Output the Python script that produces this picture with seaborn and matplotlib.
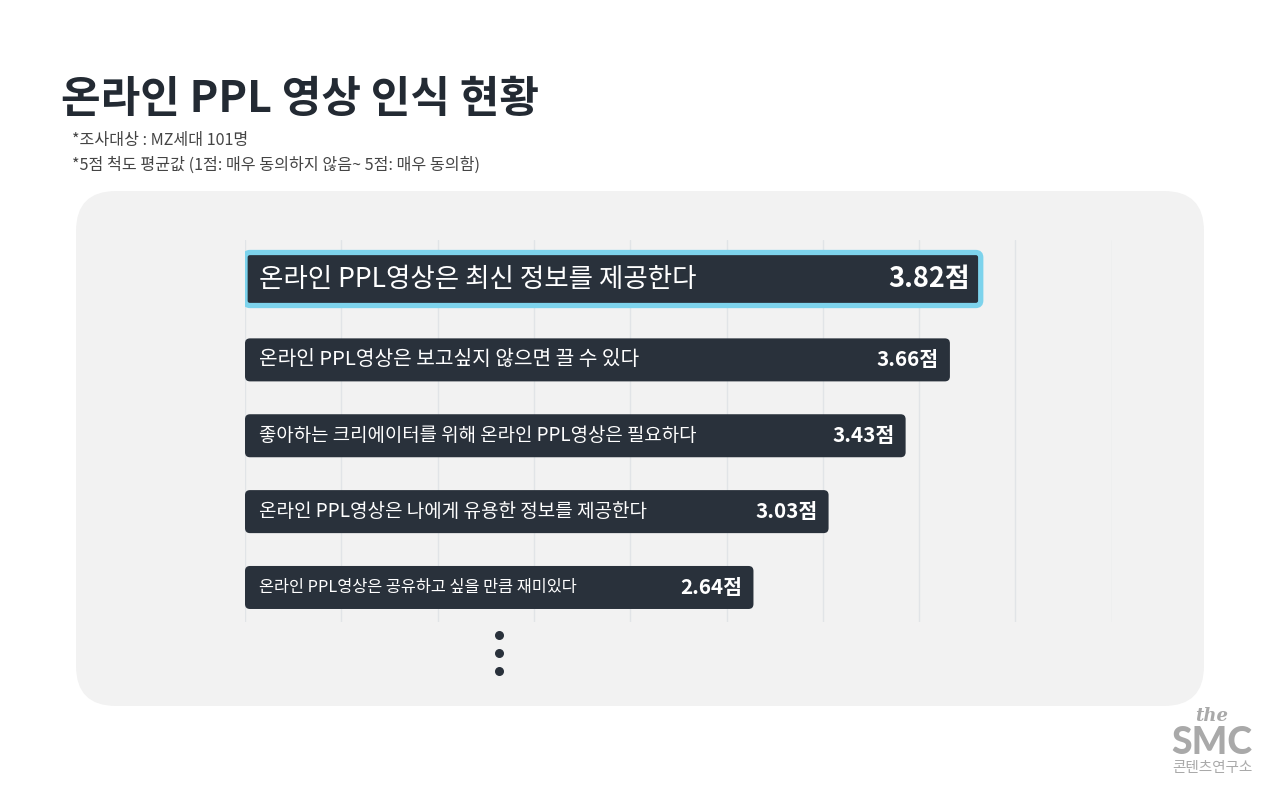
import numpy as np
import pandas as pd
import matplotlib.pyplot as plt
import matplotlib.transforms as mtransforms
from matplotlib.patches import FancyBboxPatch
import seaborn as sns

# 데이터
items = ['온라인 PPL영상은 최신 정보를 제공한다',
         '온라인 PPL영상은 보고싶지 않으면 끌 수 있다',
         '좋아하는 크리에이터를 위해 온라인 PPL영상은 필요하다',
         '온라인 PPL영상은 나에게 유용한 정보를 제공한다',
         '온라인 PPL영상은 공유하고 싶을 만큼 재미있다']
scores = [3.82, 3.66, 3.43, 3.03, 2.64]
title = '온라인 PPL 영상 인식 현황'
notes = ['*조사대상 : MZ세대 101명',
         '*5점 척도 평균값 (1점: 매우 동의하지 않음~ 5점: 매우 동의함)']

# 스타일
label_sizes = [19.1, 14.6, 13.6, 13.7, 11.75]
value_sizes = [19.5, 14.8, 14.8, 14.8, 14.8]
bar_c = '#29313b'
hl_c = '#7dd3ec'
ink = '#232a33'

df = pd.DataFrame({'item': items, 'score': scores})

sns.set_theme(style='white')
plt.rcParams['font.family'] = ['Noto Sans CJK KR', 'DejaVu Sans']

W, H = 1280, 793
fig = plt.figure(figsize=(W / 100, H / 100), dpi=100)
fig.patch.set_facecolor('white')

# 배경 (픽셀 좌표)
bg = fig.add_axes([0, 0, 1, 1])
bg.set_xlim(0, W)
bg.set_ylim(H, 0)
bg.axis('off')
bg.add_patch(FancyBboxPatch((76, 191), 1128, 515,
                            boxstyle='round,pad=0,rounding_size=40',
                            fc='#f2f2f2', ec='none'))
bg.text(61, 99, title, fontsize=31, weight='bold', color=ink, va='center')
bg.text(72, 141, notes[0], fontsize=11.6, color='#444444', va='center')
bg.text(72, 165, notes[1], fontsize=11.6, color='#444444', va='center')
bg.scatter([499, 499, 499], [635, 653, 671], s=30, c=bar_c, zorder=3)

# 로고
bg.text(1212, 716, 'the', family='DejaVu Serif', style='italic', weight='bold',
        fontsize=13, color='#a9a9a9', ha='center', va='center')
bg.text(1212, 743, 'SMC', family='Lato', weight='black', fontsize=27,
        color='#a9a9a9', ha='center', va='center')
bg.text(1212, 768, '콘텐츠연구소', fontsize=10.5, color='#a9a9a9',
        ha='center', va='center')

# 막대 그래프
ax = fig.add_axes([245 / W, (H - 622) / H, 866.7 / W, 382 / H])
ax.patch.set_alpha(0)
sns.barplot(data=df, x='score', y='item', orient='h', color=bar_c,
            width=0.567, saturation=1, ax=ax)
ax.set_xlim(0, 4.5)
ax.set_ylim(4.455, -0.58)
ax.set_xticks(np.arange(0, 4.51, 0.5))
ax.grid(axis='x', color='#e1e4e7', lw=1)
ax.set_axisbelow(True)
ax.set_xticklabels([])
ax.set_yticklabels([])
ax.set_xlabel('')
ax.set_ylabel('')
ax.tick_params(length=0)
sns.despine(ax=ax, left=True, bottom=True)

# 픽셀 당 데이터 단위
x_pp = 4.5 / (866.7)
y_pp = (4.455 + 0.58) / 382
asp = y_pp / x_pp

bars = list(ax.patches)
for i, p in enumerate(bars):
    x0, y0, w, h = p.get_x(), p.get_y(), p.get_width(), p.get_height()
    p.remove()
    if i == 0:
        y0 -= 10 * y_pp
        h += 10 * y_pp
    ec, lw = (hl_c, 3.8) if i == 0 else ('none', 0)
    ax.add_patch(FancyBboxPatch((x0, y0), w, h,
                                boxstyle=f'round,pad=0,rounding_size={5 * x_pp}',
                                mutation_aspect=asp, fc=bar_c, ec=ec, lw=lw,
                                zorder=2))
    yc = y0 + h / 2
    t_left = mtransforms.offset_copy(ax.transData, fig=fig, x=14, y=0, units='dots')
    t_right = mtransforms.offset_copy(ax.transData, fig=fig, x=-11, y=0, units='dots')
    ax.text(0, yc, items[i], transform=t_left, fontsize=label_sizes[i],
            color='white', va='center', ha='left', zorder=3)
    ax.text(scores[i], yc, f'{scores[i]:.2f}점', transform=t_right,
            fontsize=value_sizes[i], weight='bold', color='white',
            va='center', ha='right', zorder=3)

fig.savefig('out.png', dpi=100)
